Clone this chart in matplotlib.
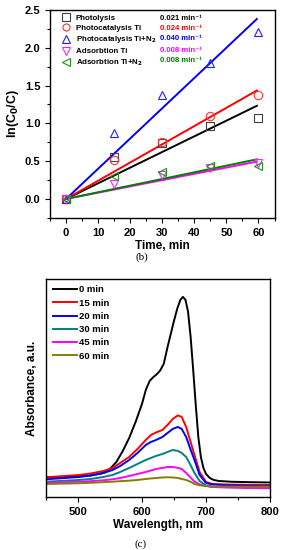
import matplotlib
matplotlib.use("Agg")
import matplotlib.pyplot as plt
import numpy as np
from matplotlib.ticker import MultipleLocator

plt.rcParams['font.family'] = ['Liberation Sans', 'DejaVu Sans']
plt.rcParams['font.weight'] = 'bold'

# ---- Panel (b): kinetics ----
time = [0, 15, 30, 45, 60]
photolysis = [0.0, 0.56, 0.74, 0.97, 1.075]
photocat_ti = [0.0, 0.51, 0.75, 1.09, 1.376]
photocat_tin2 = [0.0, 0.87, 1.37, 1.80, 2.21]
adsorb_ti = [0.0, 0.20, 0.32, 0.41, 0.47]
adsorb_tin2 = [0.0, 0.30, 0.36, 0.43, 0.43]
series_names = ["Photolysis", "Photocatalysis Ti", "Photocatalysis Ti+N$_2$",
                "Adsorbtion Ti", "Adsorbtion Ti+N$_2$"]
rate_labels = ["0.021 min\u207b\u00b9", "0.024 min\u207b\u00b9", "0.040 min\u207b\u00b9",
               "0.008 min\u207b\u00b9", "0.008 min\u207b\u00b9"]
fit_slopes = [0.0207, 0.0241, 0.0400, 0.0083, 0.0088]
fit_range = [0, 59.5]

# ---- Panel (c): spectra ----
wl_0 = [450, 480, 500, 520, 540, 550, 560, 570, 580, 590, 600, 606, 612, 618, 622, 628,
        634, 640, 645, 650, 655, 660, 664, 668, 672, 676, 680, 684, 688, 692, 696, 700,
        706, 712, 720, 740, 770, 800]
ab_0 = [0.20, 0.20, 0.205, 0.215, 0.24, 0.28, 0.35, 0.46, 0.59, 0.75, 0.93, 1.07, 1.16,
        1.20, 1.22, 1.26, 1.33, 1.50, 1.63, 1.76, 1.88, 1.97, 2.00, 1.97, 1.85, 1.60, 1.27,
        0.92, 0.60, 0.40, 0.29, 0.23, 0.19, 0.17, 0.16, 0.152, 0.148, 0.145]
wl_t = [450, 480, 502, 520, 540, 554, 566, 580, 593, 606, 614, 622, 632, 640, 648, 656,
        662, 669, 675, 682, 690, 700, 710, 730, 760, 800]
ab_15 = [0.197, 0.21, 0.22, 0.235, 0.26, 0.29, 0.34, 0.40, 0.48, 0.57, 0.62, 0.645, 0.67,
         0.72, 0.78, 0.815, 0.80, 0.70, 0.57, 0.42, 0.25, 0.15, 0.13, 0.125, 0.122, 0.12]
ab_20 = [0.177, 0.19, 0.20, 0.215, 0.24, 0.27, 0.31, 0.37, 0.44, 0.52, 0.55, 0.57, 0.60,
         0.64, 0.68, 0.70, 0.68, 0.60, 0.49, 0.37, 0.22, 0.14, 0.125, 0.118, 0.113, 0.11]
ab_30 = [0.153, 0.162, 0.17, 0.18, 0.20, 0.22, 0.25, 0.29, 0.33, 0.37, 0.39, 0.41, 0.43,
         0.45, 0.47, 0.46, 0.44, 0.40, 0.33, 0.24, 0.16, 0.115, 0.10, 0.099, 0.098, 0.097]
ab_45 = [0.143, 0.148, 0.153, 0.158, 0.167, 0.177, 0.19, 0.21, 0.23, 0.25, 0.265, 0.28,
         0.29, 0.30, 0.30, 0.29, 0.28, 0.24, 0.20, 0.155, 0.125, 0.11, 0.10, 0.095, 0.09,
         0.087]
ab_60 = [0.13, 0.134, 0.137, 0.142, 0.148, 0.153, 0.158, 0.163, 0.17, 0.18, 0.185, 0.19,
         0.195, 0.197, 0.195, 0.19, 0.18, 0.17, 0.155, 0.13, 0.117, 0.11, 0.106, 0.104,
         0.103, 0.103]
spec_labels = ["0 min", "15 min", "20 min", "30 min", "45 min", "60 min"]

fig = plt.figure(figsize=(2.83, 5.5), dpi=100)

# ---------- panel (b) ----------
ax1 = fig.add_axes([0.177, 0.604, 0.793, 0.378])
colors_b = ["#404040", "#ff3030", "#2020ff", "#ff20ff", "#209020"]
line_colors = ["black", "red", "blue", "#ff00ff", "green"]
markers = ["s", "o", "^", "v", "<"]
data_b = [photolysis, photocat_ti, photocat_tin2, adsorb_ti, adsorb_tin2]
handles = []
for ys, c, m, name in zip(data_b, colors_b, markers, series_names):
    h, = ax1.plot(time, ys, linestyle='none', marker=m, markersize=6,
                  markerfacecolor='none', markeredgecolor=c, markeredgewidth=0.8,
                  label=name)
    handles.append(h)
for i in range(len(fit_slopes)):
    xs = np.array(fit_range, dtype=float)
    ax1.plot(xs, fit_slopes[i] * xs, color=line_colors[i], lw=1.4, zorder=1)

ax1.set_xlim(-5, 65)
ax1.set_ylim(-0.25, 2.5)
ax1.xaxis.set_major_locator(MultipleLocator(10))
ax1.xaxis.set_minor_locator(MultipleLocator(5))
ax1.yaxis.set_major_locator(MultipleLocator(0.5))
ax1.yaxis.set_minor_locator(MultipleLocator(0.25))
ax1.tick_params(which='both', direction='out', top=False, right=False, labelsize=8)
ax1.tick_params(which='major', length=3.5, width=0.8)
ax1.tick_params(which='minor', length=2, width=0.8)
for lab in ax1.get_xticklabels() + ax1.get_yticklabels():
    lab.set_fontweight('bold')
ax1.set_xlabel("Time, min", fontsize=8.5, fontweight='bold', labelpad=2)
ax1.set_ylabel("ln(C$_\\mathbf{0}$/C)", fontsize=9, fontweight='bold', labelpad=3)
leg = ax1.legend(handles=handles, loc='upper left', fontsize=5.7, frameon=False,
                 handlelength=1.0, handletextpad=0.8, labelspacing=0.3,
                 markerscale=0.85, borderaxespad=0.3, borderpad=0.3,
                 bbox_to_anchor=(0.03, 1.0))
for t in leg.get_texts():
    t.set_fontweight('bold')
rate_y = [0.958, 0.91, 0.862, 0.803, 0.755]
for lbl, lc, yy in zip(rate_labels, line_colors, rate_y):
    ax1.text(0.49, yy, lbl, transform=ax1.transAxes, color=lc, fontsize=5.6,
             fontweight='bold', va='center', ha='left',
             family=['Liberation Sans', 'DejaVu Sans'])
for s in ax1.spines.values():
    s.set_linewidth(1.0)

fig.text(0.5, 0.533, "(b)", fontsize=8, ha='center', va='center',
         family=['Liberation Serif', 'DejaVu Serif'], fontweight='normal')

# ---------- panel (c) ----------
ax2 = fig.add_axes([0.1625, 0.0964, 0.7915, 0.3966])
spec_colors = ["black", "red", "blue", "#008080", "#ff00ff", "#808000"]
spec_data = [(wl_0, ab_0), (wl_t, ab_15), (wl_t, ab_20), (wl_t, ab_30),
             (wl_t, ab_45), (wl_t, ab_60)]
for (wx, wy), c, lbl in zip(spec_data, spec_colors, spec_labels):
    ax2.plot(wx, wy, color=c, lw=1.4, label=lbl)
ax2.set_xlim(450, 800)
ax2.set_ylim(0, 2.18)
ax2.xaxis.set_major_locator(MultipleLocator(100))
ax2.xaxis.set_minor_locator(MultipleLocator(50))
ax2.set_yticks([])
ax2.tick_params(which='both', direction='out', top=False, right=False, labelsize=8)
ax2.tick_params(which='major', length=3.5, width=0.8)
ax2.tick_params(which='minor', length=2, width=0.8)
for lab in ax2.get_xticklabels():
    lab.set_fontweight('bold')
ax2.set_xlabel("Wavelength, nm", fontsize=8.5, fontweight='bold', labelpad=2)
ax2.set_ylabel("Absorbance, a.u.", fontsize=8.5, fontweight='bold', labelpad=6)
leg2 = ax2.legend(loc='upper left', fontsize=6.8, frameon=False, handlelength=2.6,
                  handletextpad=0.2, labelspacing=0.45, borderaxespad=0.3)
for t in leg2.get_texts():
    t.set_fontweight('bold')
for s in ax2.spines.values():
    s.set_linewidth(1.0)

fig.text(0.495, 0.011, "(c)", fontsize=8, ha='center', va='center',
         family=['Liberation Serif', 'DejaVu Serif'], fontweight='normal')

fig.savefig("out.png", dpi=100)
